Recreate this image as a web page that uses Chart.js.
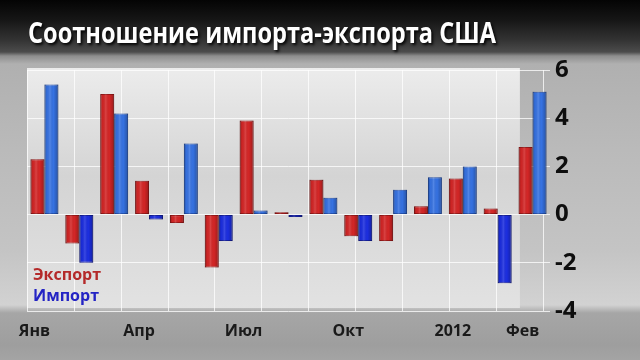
<!DOCTYPE html>
<html>
<head>
<meta charset="utf-8">
<script src="https://cdn.jsdelivr.net/npm/chart.js@4/dist/chart.umd.min.js"></script>
<style>
  html, body { margin: 0; padding: 0; }
  body {
    width: 640px; height: 360px; overflow: hidden; position: relative;
    background: linear-gradient(to bottom,
      #040404 0px, #161616 20px, #333 40px, #4c4c4c 52px, #8e8e8e 56px,
      #b0b0b0 64px, #bababa 150px, #c4c4c4 250px, #d2d2d2 305px,
      #a6a6a6 313px, #9e9e9e 345px, #a4a4a4 360px);
  }
  #title {
    position: absolute; left: 28px; top: 13px; margin: 0;
    font-family: "Open Sans", sans-serif; font-weight: 700; font-size: 28px;
    color: #fff; white-space: nowrap; transform-origin: 0 0;
    text-shadow: 2px 2px 3px rgba(0,0,0,0.9);
    z-index: 2;
  }
  #wrap { position: absolute; left: 0; top: 0; width: 640px; height: 360px; z-index: 1; }
</style>
</head>
<body>
<div id="title">Соотношение импорта-экспорта США</div>
<div id="wrap"><canvas id="c" width="640" height="360"></canvas></div>
<script>
const categories = ['Янв', '', '', 'Апр', '', '', 'Июл', '', '', 'Окт', '', '', '2012', '', 'Фев'];
const exportValues = [2.3, -1.2, 5.0, 1.4, -0.35, -2.2, 3.9, 0.1, 1.45, -0.9, -1.1, 0.35, 1.5, 0.25, 2.8];
const importValues = [5.4, -2.0, 4.2, -0.2, 2.95, -1.1, 0.17, -0.1, 0.7, -1.1, 1.03, 1.55, 2.0, -2.85, 5.1];
const seriesNames = ['Экспорт', 'Импорт'];
const yTicks = [-4, -2, 0, 2, 4, 6];

// fit title width
(function () {
  const t = document.getElementById('title');
  const w = t.getBoundingClientRect().width;
  t.style.transform = 'scaleX(' + (468 / w) + ')';
})();

const panelPlugin = {
  id: 'panel',
  beforeDraw(chart) {
    const { ctx, chartArea } = chart;
    const x2 = chart.scales.xGrid;
    const left = chartArea.left;
    const right = x2.getPixelForValue(10);
    const top = chartArea.top - 2;
    const bottom = chartArea.bottom - 3;
    const g = ctx.createLinearGradient(0, top, 0, bottom);
    g.addColorStop(0, '#ececec');
    g.addColorStop(0.45, '#d4d4d4');
    g.addColorStop(1, '#e2e2e2');
    ctx.save();
    ctx.fillStyle = g;
    ctx.fillRect(left, top, right - left, bottom - top);
    ctx.restore();
  }
};

const barShadePlugin = {
  id: 'barShade',
  afterDatasetsDraw(chart) {
    const ctx = chart.ctx;
    chart.data.datasets.forEach((ds, i) => {
      const meta = chart.getDatasetMeta(i);
      meta.data.forEach((el) => {
        const p = el.getProps(['x', 'y', 'base', 'width'], true);
        const l = p.x - p.width / 2;
        const t = Math.min(p.y, p.base);
        const h = Math.abs(p.base - p.y);
        if (h < 0.5) return;
        const g = ctx.createLinearGradient(l, 0, l + p.width, 0);
        g.addColorStop(0, 'rgba(0,0,0,0.28)');
        g.addColorStop(0.18, 'rgba(0,0,0,0.03)');
        g.addColorStop(0.4, 'rgba(255,255,255,0.14)');
        g.addColorStop(0.65, 'rgba(0,0,0,0.0)');
        g.addColorStop(1, 'rgba(0,0,0,0.28)');
        ctx.save();
        ctx.fillStyle = g;
        ctx.fillRect(l, t, p.width, h);
        ctx.restore();
      });
    });
  }
};

const legendPlugin = {
  id: 'textLegend',
  afterDraw(chart) {
    const ctx = chart.ctx;
    const left = chart.chartArea.left + 6;
    ctx.save();
    ctx.font = '700 16px "Open Sans", sans-serif';
    ctx.textBaseline = 'middle';
    ctx.textAlign = 'left';
    ctx.fillStyle = '#b42a2a';
    ctx.fillText(seriesNames[0], left, 275);
    ctx.fillStyle = '#2424c4';
    ctx.fillText(seriesNames[1], left, 296);
    ctx.restore();
  }
};

new Chart(document.getElementById('c'), {
  type: 'bar',
  data: {
    labels: categories,
    datasets: [
      {
        label: seriesNames[0],
        data: exportValues,
        backgroundColor: '#d42626',
        borderColor: '#9a1818',
        borderWidth: 1,
        borderSkipped: false,
        categoryPercentage: 0.8,
        barPercentage: 1.0,
        xAxisID: 'x', yAxisID: 'y'
      },
      {
        label: seriesNames[1],
        data: importValues,
        backgroundColor: (c) => (c.raw < 0 ? '#1c2ee0' : '#3672e2'),
        borderColor: (c) => (c.raw < 0 ? '#141e9a' : '#2452b0'),
        borderWidth: 1,
        borderSkipped: false,
        categoryPercentage: 0.8,
        barPercentage: 1.0,
        xAxisID: 'x', yAxisID: 'y'
      }
    ]
  },
  options: {
    responsive: false,
    devicePixelRatio: 1,
    animation: false,
    layout: { padding: { left: 27, top: 70, right: 0, bottom: 0 } },
    plugins: { legend: { display: false }, tooltip: { enabled: false }, title: { display: false } },
    scales: {
      x: {
        type: 'category',
        position: 'bottom',
        grid: { display: false },
        border: { display: false },
        afterFit(s) { s.height = 49; },
        ticks: {
          autoSkip: false, maxRotation: 0, minRotation: 0,
          padding: 3, labelOffset: -10,
          color: '#1a1a1a',
          font: { family: 'Open Sans', weight: '700', size: 16 }
        }
      },
      xGrid: {
        type: 'linear',
        position: 'bottom',
        min: 0, max: 10.135,
        display: true,
        afterFit(s) { s.height = 0; },
        grid: { color: 'rgba(255,255,255,0.75)', lineWidth: 1, drawTicks: false },
        border: { display: false },
        ticks: { display: false, stepSize: 1, includeBounds: false }
      },
      y: {
        position: 'right',
        min: -4, max: 6,
        afterFit(s) { s.width = 90; },
        afterBuildTicks(s) { s.ticks = yTicks.map(v => ({ value: v })); },
        grid: { color: 'rgba(255,255,255,0.75)', lineWidth: 1, drawTicks: false },
        border: { display: false },
        ticks: {
          padding: 5,
          color: '#0e0e0e',
          font: { family: 'Open Sans', weight: '700', size: 24 }
        }
      }
    }
  },
  plugins: [panelPlugin, barShadePlugin, legendPlugin]
});
</script>
</body>
</html>
